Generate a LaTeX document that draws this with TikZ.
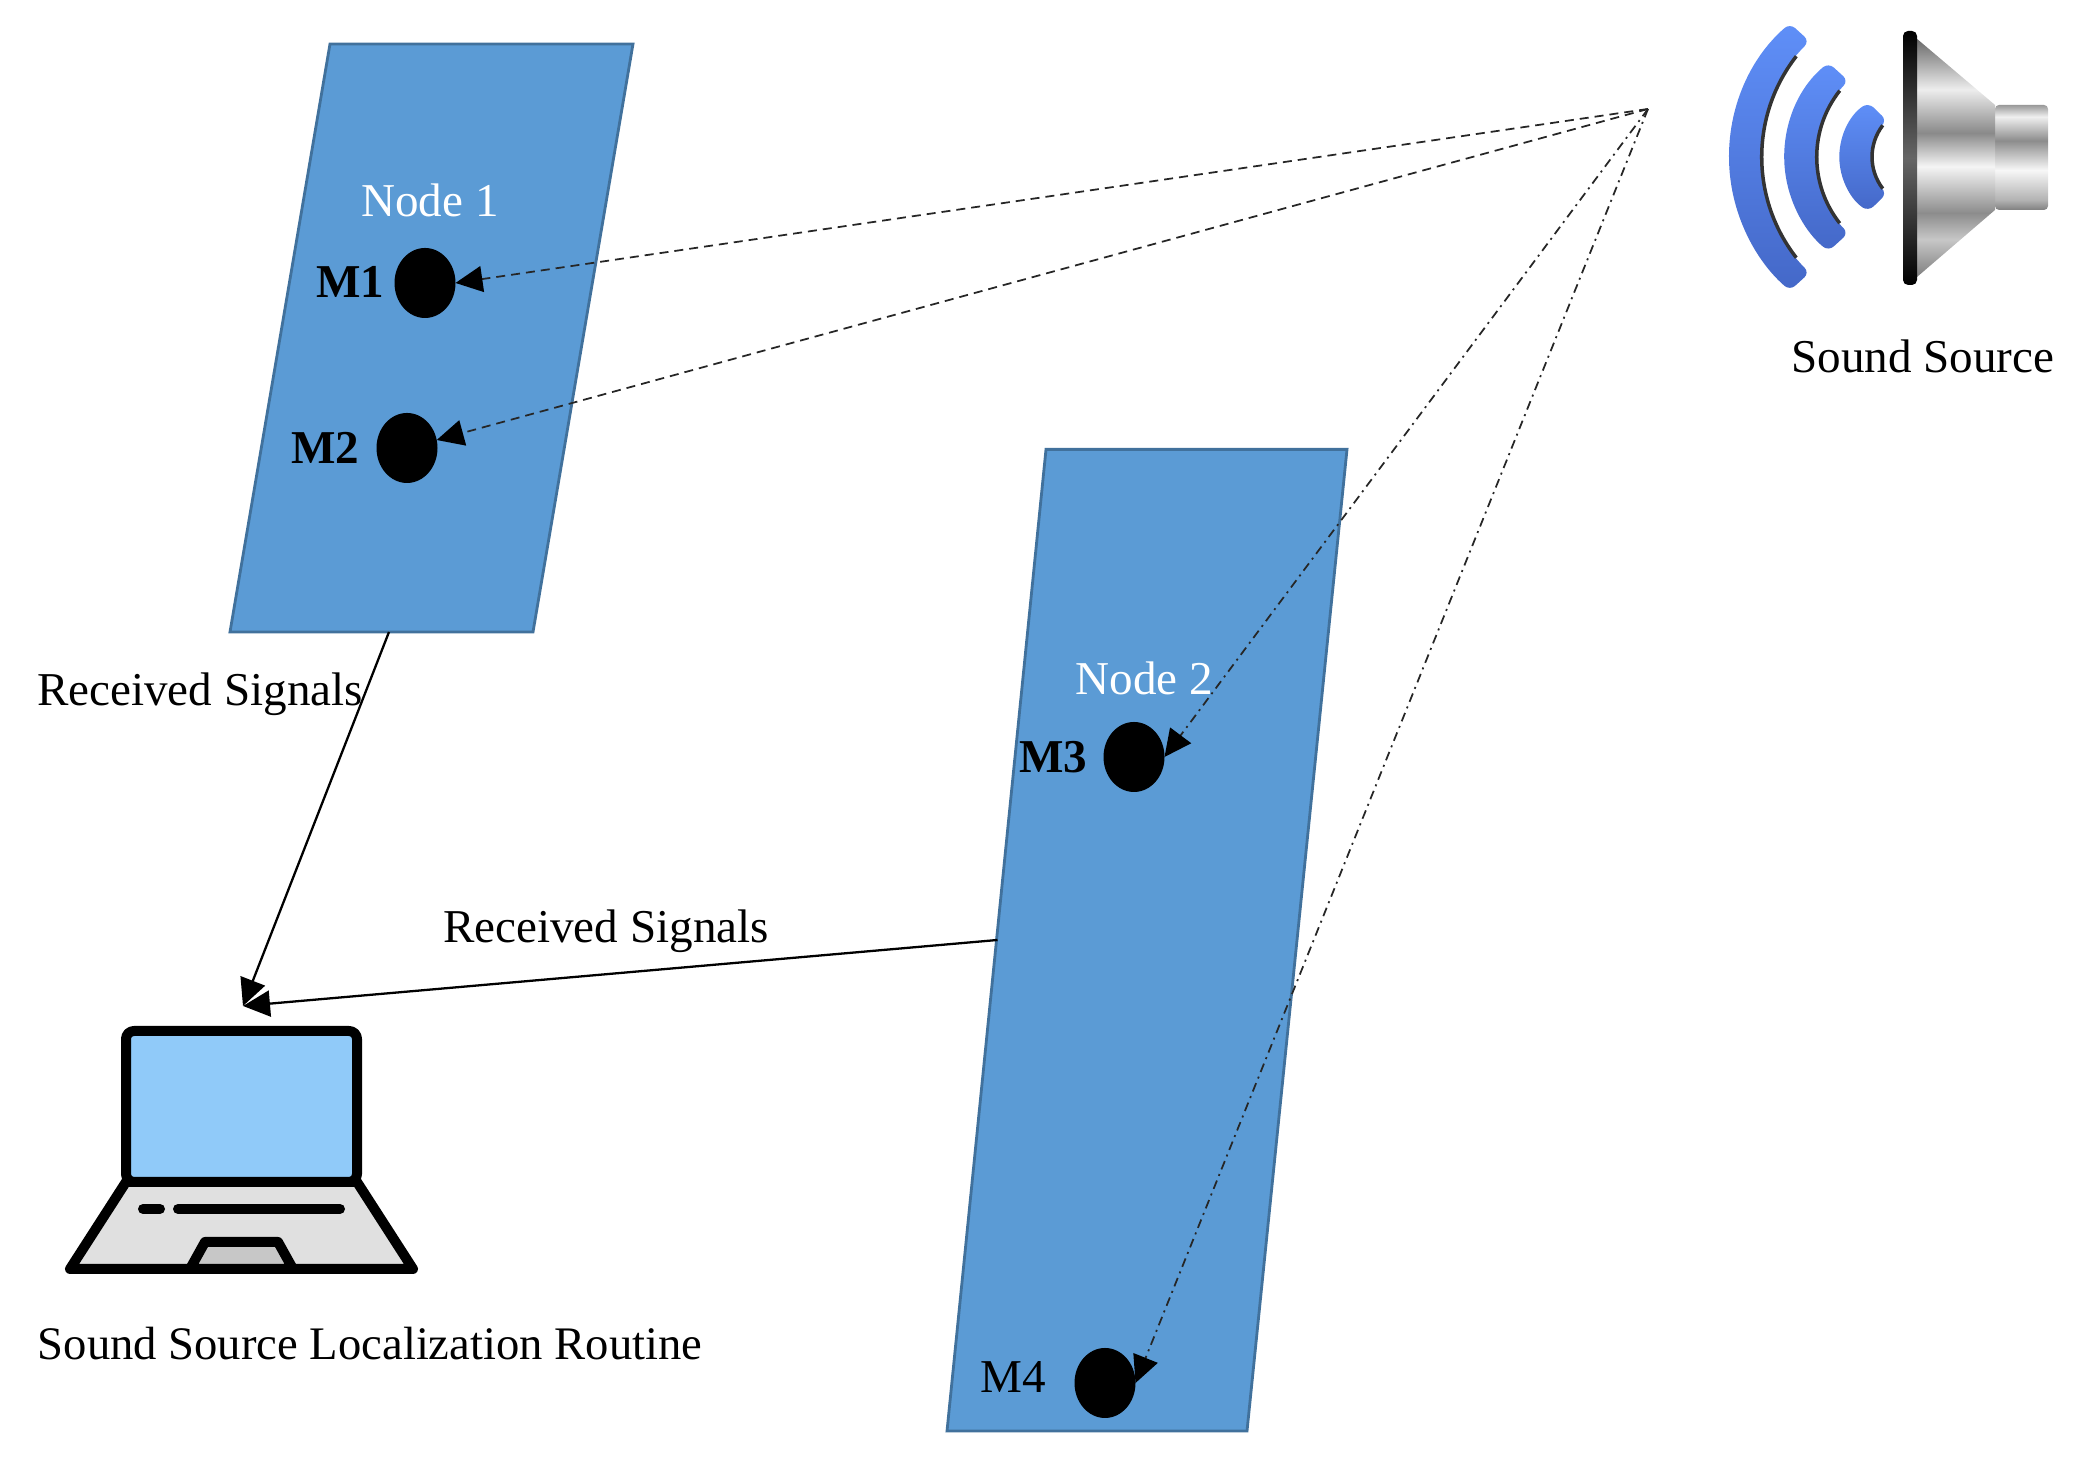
\documentclass[tikz,border=0pt]{standalone}
\usepackage{fontspec}
\setmainfont{Liberation Serif}
\usetikzlibrary{arrows.meta,shapes.geometric,backgrounds}
\definecolor{panelblue}{HTML}{5B9BD5}
\definecolor{paneledge}{HTML}{41719C}
\definecolor{screenblue}{HTML}{90CAF9}
\definecolor{wavetop}{HTML}{5F8FF8}
\definecolor{wavebot}{HTML}{4468C8}
\newcommand{\lblsize}{\fontsize{13.4}{16}\selectfont}
% outer centre, radius, half angle, then the same for the inner edge
\newcommand{\wavearc}[6]{
  \shade[wavefill] ([shift={(#1,13.05)}]{180-#3}:#2) arc[start angle=180-#3,end angle=180+#3,radius=#2]
    -- ([shift={(#4,13.05)}]{180+#6}:#5) arc[start angle=180+#6,end angle=180-#6,radius=#5] -- cycle;
  \draw[black!80,line width=1pt] ([shift={(#4,13.05)}]{180-#6+7}:#5) arc[start angle=180-#6+7,end angle=180+#6-7,radius=#5];
}
\pgfdeclareverticalshading{conemetal}{100bp}{color(0bp)=(black!55); color(25bp)=(black!55); color(33.7bp)=(black!22); color(39bp)=(black!45); color(48.3bp)=(black!4); color(55bp)=(black!46); color(63.7bp)=(black!7); color(75bp)=(black!65); color(100bp)=(black!65)}
\pgfdeclareverticalshading{neckmetal}{100bp}{color(0bp)=(black!50); color(25bp)=(black!50); color(29.8bp)=(black!30); color(44bp)=(black!3); color(58bp)=(black!45); color(69.4bp)=(black!6); color(75bp)=(black!40); color(100bp)=(black!40)}
\tikzset{
  panel/.style={draw=paneledge,fill=panelblue,line width=0.8pt},
  mic/.style={ellipse,fill=black,inner sep=0pt,outer sep=0pt,minimum width=0.61cm,minimum height=0.70cm},
  lbl/.style={font=\lblsize,inner sep=0pt},
  micarrow/.style={-{Triangle[length=0.27cm,width=0.26cm,black]},line width=0.5pt,black!85},
  sigarrow/.style={-{Triangle[length=0.27cm,width=0.26cm]},line width=0.65pt},
  wavefill/.style={top color=wavetop,bottom color=wavebot,rounded corners=0.07cm},
  laptopline/.style={line width=0.1cm,line join=round,line cap=round}
}
\begin{document}
\begin{tikzpicture}
  \useasboundingbox (0,0) rectangle (20.9,14.62);
  \begin{scope}[on background layer]
    \draw[panel] (3.30,14.18) -- (6.33,14.18) -- (5.33,8.30) -- (2.30,8.30) -- cycle;
    \draw[panel] (10.46,10.126) -- (13.47,10.126) -- (12.47,0.31) -- (9.47,0.31) -- cycle;
  \end{scope}
  \node[lbl,text=white] (t1) at (4.30,12.62) {Node 1};
  \node[lbl,text=white] (t2) at (11.445,7.84) {Node 2};
  \node[mic] (m1) at (4.25,11.79) {};
  \node[mic] (m2) at (4.07,10.14) {};
  \node[mic] (m3) at (11.34,7.05) {};
  \node[mic] (m4) at (11.05,0.79) {};
  \node[lbl,font=\lblsize\bfseries] (l1) at (3.50,11.80) {M1};
  \node[lbl,font=\lblsize\bfseries] (l2) at (3.25,10.14) {M2};
  \node[lbl,font=\lblsize\bfseries] (l3) at (10.53,7.05) {M3};
  \node[lbl] (l4) at (10.13,0.85) {M4};
  \node[lbl] (r1) at (2.00,7.68) {Received Signals};
  \node[lbl] (r2) at (6.06,5.31) {Received Signals};
  \node[lbl,font=\fontsize{13.27}{16}\selectfont] (r3) at (3.70,1.18) {Sound Source Localization Routine};
  \node[lbl] (s1) at (19.23,11.06) {Sound Source};
  \coordinate (src) at (16.48,13.53);
  \coordinate (pc) at (2.43,4.56);
  \coordinate (n1b) at (3.89,8.30);
  \coordinate (n2l) at (9.975,5.22);
  % connectors go under the microphones
  \begin{scope}[on background layer]
    \draw[micarrow,dash pattern=on 0.09cm off 0.06cm] (src) -- (m1.east);
    \draw[micarrow,dash pattern=on 0.09cm off 0.06cm] (src) -- (m2.15);
    \draw[micarrow,dash pattern=on 0.09cm off 0.05cm on 0.02cm off 0.05cm] (src) -- (m3.east);
    \draw[micarrow,dash pattern=on 0.09cm off 0.05cm on 0.02cm off 0.05cm] (src) -- (m4.east);
    \draw[sigarrow] (n1b) -- (pc);
    \draw[sigarrow] (n2l) -- (pc);
  \end{scope}
  % laptop
  \draw[laptopline,fill=black!12] (0.70,1.93) -- (1.26,2.80) -- (3.57,2.80) -- (4.13,1.93) -- cycle;
  \draw[laptopline,fill=screenblue,rounded corners=0.08cm] (1.26,2.80) rectangle (3.57,4.31);
  \draw[laptopline] (1.43,2.53) -- (1.60,2.53);
  \draw[laptopline] (1.78,2.53) -- (3.40,2.53);
  \draw[laptopline,fill=black!22] (1.90,1.93) -- (2.05,2.20) -- (2.78,2.20) -- (2.93,1.93) -- cycle;
  % speaker
  \wavearc{19.06}{1.77}{49}{19.257}{1.64}{44.9}
  \wavearc{19.067}{1.225}{50.3}{19.237}{1.07}{45.3}
  \wavearc{19.047}{0.654}{56.3}{19.24}{0.52}{44.5}
  \shade[shading=neckmetal,rounded corners=0.04cm] (19.95,13.57) rectangle (20.48,12.52);
  \shade[shading=conemetal] (19.10,14.29) -- (19.95,13.57) -- (19.95,12.52) -- (19.10,11.79) -- cycle;
  \shade[top color=black,bottom color=black,middle color=black!60,rounded corners=0.05cm] (19.03,14.31) rectangle (19.17,11.77);
\end{tikzpicture}
\end{document}
